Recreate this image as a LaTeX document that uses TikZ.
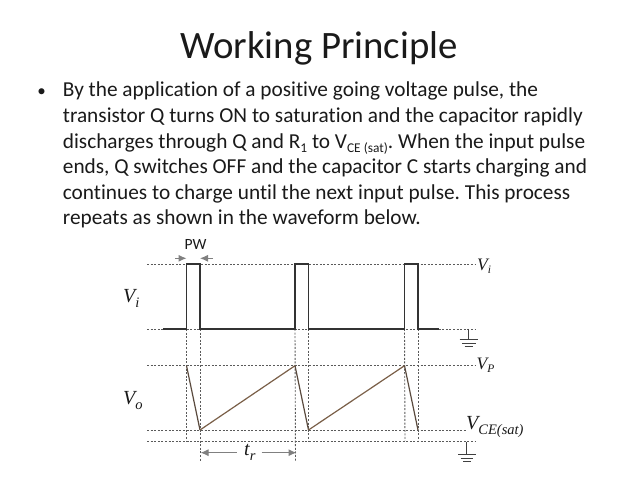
\documentclass[tikz,border=0pt]{standalone}
\usepackage{amssymb}
\usepackage{amsmath}
\usepackage{fontspec}
\usetikzlibrary{arrows.meta}
\setmainfont[Ligatures=NoCommon]{Carlito}
\newfontfamily\labelfont{Liberation Serif}
\newcommand{\textsub}[1]{\raisebox{-3.5pt}{\fontsize{13.4}{15}\selectfont #1}}
\newcommand{\bigsub}[1]{\raisebox{-4.5pt}{\fontsize{14.5}{16}\selectfont #1}}
\newcommand{\smallsub}[1]{\raisebox{-3pt}{\fontsize{11.5}{13}\selectfont #1}}
\definecolor{wavedark}{HTML}{333333}
\definecolor{guidegrey}{HTML}{5A5A5A}
\definecolor{rampbrown}{HTML}{7A5F48}
\definecolor{fallbrown}{HTML}{5A4A3E}
\definecolor{arrowgrey}{HTML}{808080}
\definecolor{textgrey}{HTML}{1A1A1A}
\begin{document}
\frenchspacing
\begin{tikzpicture}[x=1pt,y=-1pt]
\tikzstyle{every node}=[inner sep=0pt,text=textgrey]
\tikzstyle{bodyline}=[anchor=base west,font=\fontsize{21.3}{24}\selectfont]
\tikzstyle{biglabel}=[anchor=base west,font=\labelfont\itshape\fontsize{20}{24}\selectfont]
\tikzstyle{smalllabel}=[anchor=base west,font=\labelfont\itshape\fontsize{17.5}{22}\selectfont]
\tikzstyle{guide}=[guidegrey,line width=0.9pt,dash pattern=on 2pt off 1.6pt]
\tikzstyle{pulse}=[wavedark,line width=1.4pt]
\tikzstyle{span}=[arrowgrey,line width=1pt,-{Latex[length=8pt,width=7pt]}]
\tikzstyle{earth}=[black!75,line width=1pt]
\useasboundingbox (0,0) rectangle (638,478);
\fill [white] (0,0) rectangle (638,478);
\node [anchor=base] (title) at (319,58.3) {\fontsize{38.8}{42}\selectfont Working Principle};
\node [anchor=base] (bullet) at (41.7,96.5) {\fontsize{17}{20}\selectfont •};
\node [bodyline] (line1) at (62.7,97) {By the application of a positive going voltage pulse, the};
\node [bodyline] (line2) at (62.7,123) {transistor Q turns ON to saturation and the capacitor rapidly};
\node [bodyline] (line3) at (62.7,149) {discharges through Q and R\textsub{1} to V\textsub{CE (sat)}. When the input pulse};
\node [bodyline] (line4) at (62.7,174) {ends, Q switches OFF and the capacitor C starts charging and};
\node [bodyline] (line5) at (62.7,200) {continues to charge until the next input pulse. This process};
\node [bodyline] (line6) at (62.7,225) {repeats as shown in the waveform below.};
% levels
\coordinate (hiL) at (147,264);
\coordinate (hiR) at (476,264);
\coordinate (loL) at (147,329);
\coordinate (loR) at (476,329);
\coordinate (vpL) at (147,365.7);
\coordinate (vpR) at (476,365.7);
\coordinate (vcL) at (147,430);
\coordinate (vcR) at (466,430);
\coordinate (gnL) at (147,441.7);
\coordinate (gnR) at (476,441.7);
\draw [guide] (hiL) -- (hiR);
\draw [guide] (loL) -- (loR);
\draw [guide] (vpL) -- (vpR);
\draw [guide] (vcL) -- (vcR);
\draw [guide] (gnL) -- (gnR);
% edges of the pulses
\coordinate (a1) at (186.5,329);
\coordinate (b1) at (200,329);
\coordinate (a2) at (295,329);
\coordinate (b2) at (308.5,329);
\coordinate (a3) at (404.5,329);
\coordinate (b3) at (418,329);
\draw [guide] (a1) -- (186.5,441);
\draw [guide] (b1) -- (200,462);
\draw [guide] (a2) -- (295.5,461);
\draw [guide] (b2) -- (308.5,441);
\draw [guide] (a3) -- (405,441);
\draw [guide] (b3) -- (418,441);
% input pulses
\coordinate (start) at (163,329);
\coordinate (stop) at (439,329);
\draw [pulse] (start) -- (a1) -- (186.5,264) -- (200,264) -- (b1) -- (a2) -- (295,264) -- (308.5,264) -- (b2) -- (a3) -- (404.5,264) -- (418,264) -- (b3) -- (stop);
% output ramp
\coordinate (p1) at (186.5,365.7);
\coordinate (v1) at (200,430);
\coordinate (p2) at (295,365.7);
\coordinate (v2) at (308.5,430);
\coordinate (p3) at (404.5,365.7);
\coordinate (v3) at (418,430);
\draw [fallbrown,line width=1.2pt] (p1) -- (v1);
\draw [rampbrown,line width=1.2pt] (v1) -- (p2);
\draw [fallbrown,line width=1.2pt] (p2) -- (v2);
\draw [rampbrown,line width=1.2pt] (v2) -- (p3);
\draw [fallbrown,line width=1.2pt] (p3) -- (v3);
% labels
\node (pw) at (195.5,244) {\fontsize{15.6}{18}\selectfont PW};
\coordinate (pwL) at (175,258.3);
\coordinate (pwR) at (213,258.3);
\coordinate (pwA) at (186.5,258.3);
\coordinate (pwB) at (200,258.3);
\draw [span] (pwL) -- (pwA);
\draw [span] (pwR) -- (pwB);
\node [biglabel] (tr) at (244,456) {t\bigsub{r}};
\coordinate (trL) at (236.7,452.7);
\coordinate (trR) at (261.7,452.7);
\coordinate (trA) at (200.5,452.7);
\coordinate (trB) at (296.5,452.7);
\draw [span] (trL) -- (trA);
\draw [span] (trR) -- (trB);
\node [biglabel] (vinl) at (123,303) {V\bigsub{i}};
\node [biglabel] (vonl) at (123,405) {V\bigsub{o}};
\node [smalllabel] (vir) at (477,271) {V\smallsub{i}};
\node [smalllabel] (vpr) at (476.5,370) {V\smallsub{P}};
\node [biglabel] (vce) at (466,430) {V\bigsub{CE(sat)}};
% grounds
\coordinate (g1) at (468.7,329);
\coordinate (g2) at (466.7,442);
\draw [earth] (g1) -- (468.7,340);
\draw [earth] (459.5,340) -- (478,340);
\draw [earth] (462,343.5) -- (475.5,343.5);
\draw [earth] (464.5,347) -- (473,347);
\draw [earth] (g2) -- (466.7,455);
\draw [earth] (458,455) -- (475.5,455);
\draw [earth] (460.5,458.5) -- (473,458.5);
\draw [earth] (463,462) -- (470.5,462);
\end{tikzpicture}
\end{document}
